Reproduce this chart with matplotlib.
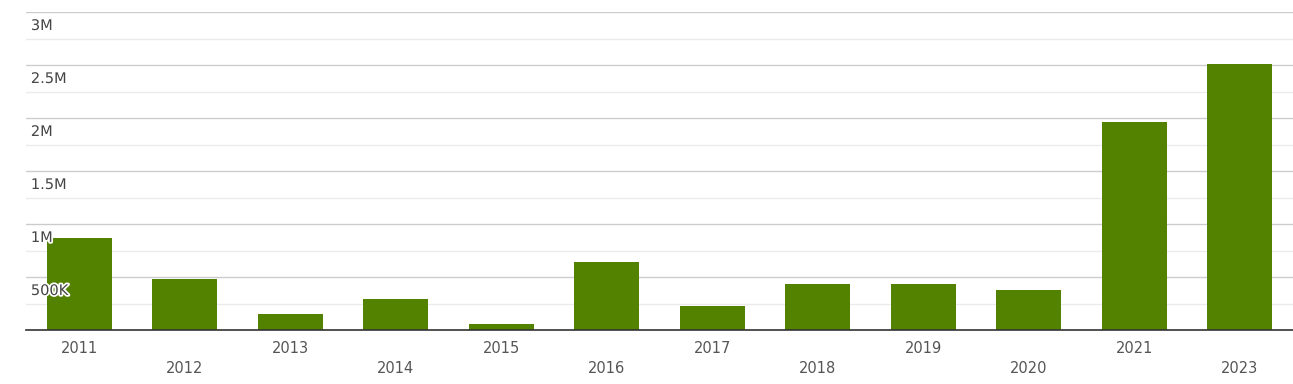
import matplotlib
matplotlib.use("Agg")
import matplotlib.pyplot as plt
import matplotlib.patheffects as pe
from matplotlib.ticker import MultipleLocator

years = ["2011", "2012", "2013", "2014", "2015", "2016", "2017", "2018", "2019", "2020", "2021", "2023"]
values = [868000, 481000, 151000, 292000, 57000, 642000, 226000, 434000, 434000, 377000, 1962000, 2509000]
ytick_vals = [500000, 1000000, 1500000, 2000000, 2500000, 3000000]
ytick_labels = ["500K", "1M", "1.5M", "2M", "2.5M", "3M"]

W, H = 1293, 384
fig = plt.figure(figsize=(W / 100, H / 100), dpi=100)
ax = fig.add_axes([26 / W, 54 / H, 1 - 26 / W, (330 - 12) / H])

x = list(range(len(years)))
ax.bar(x, values, width=0.616, color="#538100", zorder=2)

ax.set_xlim(-0.507, len(years) - 1 + 0.507)
ax.set_ylim(0, 3000000)

ax.yaxis.set_major_locator(MultipleLocator(500000))
ax.yaxis.set_minor_locator(MultipleLocator(250000))
ax.grid(axis="y", which="major", color="#cccccc", linewidth=1, zorder=0)
ax.grid(axis="y", which="minor", color="#ebebeb", linewidth=1, zorder=0)
ax.set_axisbelow(True)
ax.tick_params(axis="y", which="both", left=False, labelleft=False)
ax.tick_params(axis="x", which="both", bottom=False, labelbottom=False)

for s in ["top", "right", "left"]:
    ax.spines[s].set_visible(False)
ax.spines["bottom"].set_color("#333333")
ax.spines["bottom"].set_linewidth(1.2)
ax.spines["bottom"].set_zorder(3)

# y labels inside the plot, below their gridline
for v, lab in zip(ytick_vals, ytick_labels):
    ax.annotate(lab, xy=(0, v), xycoords=("axes fraction", "data"),
                xytext=(3.5, -4.3), textcoords="offset points",
                ha="left", va="top", fontsize=10.5, color="#444444",
                fontfamily="DejaVu Sans", zorder=4,
                path_effects=[pe.withStroke(linewidth=2.5, foreground="white")])

# x labels in two staggered rows
for i, lab in enumerate(years):
    off = -13.2 if i % 2 == 0 else -27.7
    ax.annotate(lab, xy=(i, 0), xycoords="data",
                xytext=(0, off), textcoords="offset points",
                ha="center", va="center", fontsize=10.5, color="#555555",
                fontfamily="DejaVu Sans", annotation_clip=False)

fig.savefig("out.png", dpi=100)
